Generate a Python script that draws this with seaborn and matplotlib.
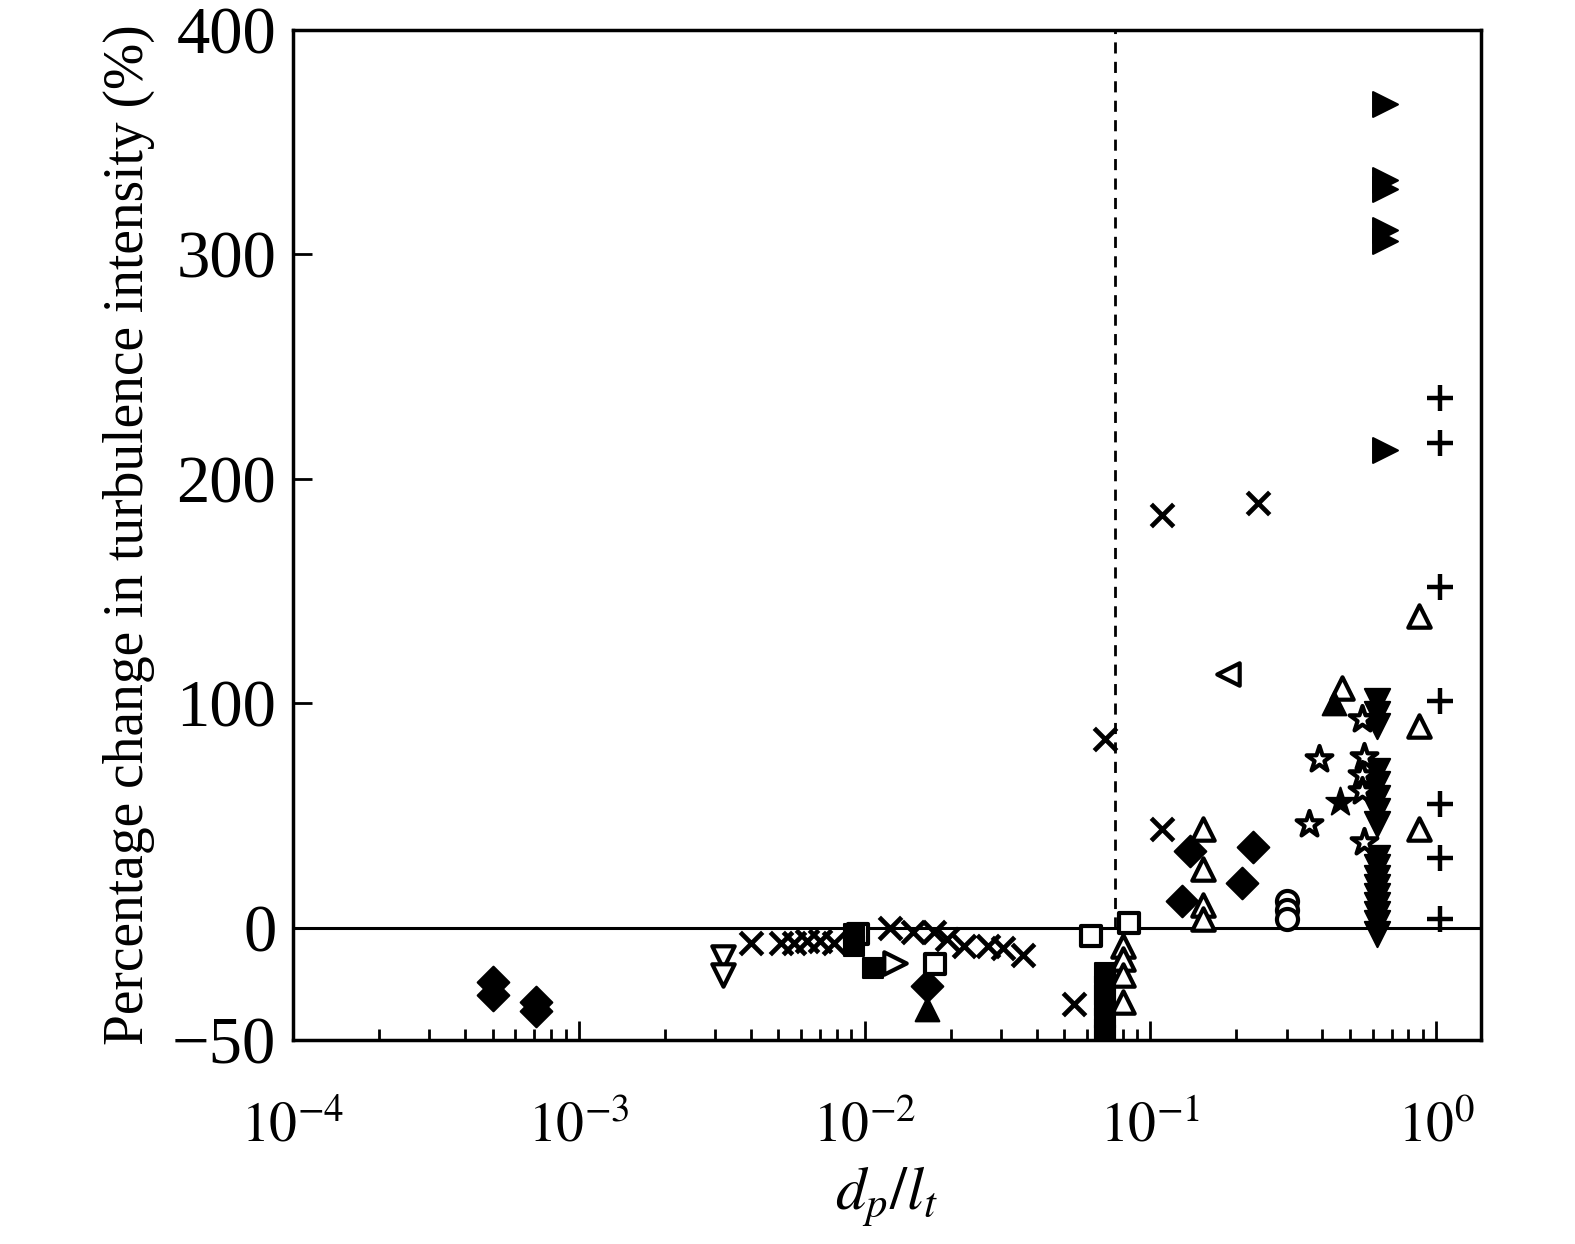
import numpy as np
import pandas as pd
import matplotlib
matplotlib.use("Agg")
import matplotlib.pyplot as plt
import seaborn as sns
from matplotlib.ticker import LogLocator, FixedLocator, FixedFormatter, NullFormatter

# ---------------- data ----------------
cross_x = [0.0696, 0.110, 0.239, 0.110, 0.054, 0.0040, 0.0051, 0.00565, 0.0063, 0.0070,
           0.0078, 0.0123, 0.0148, 0.0175, 0.0195, 0.0222, 0.027, 0.0306, 0.0359]
cross_y = [84, 184, 189, 44, -34, -7, -7, -7, -6, -6, -7, 0, -2, -2, -5, -8, -8, -9, -12]

plus_x = [1.03, 1.03, 1.03, 1.03, 1.03, 1.03, 1.03]
plus_y = [236, 216, 152, 101, 55, 31, 4]

rtri_fill_x = [0.66, 0.66, 0.66, 0.66, 0.66, 0.66]
rtri_fill_y = [367, 333, 329, 311, 306, 213]

rtri_open_x = [0.0128]
rtri_open_y = [-15.5]

ltri_open_x = [0.187]
ltri_open_y = [113]

tri_open_x = [0.47, 0.153, 0.153, 0.153, 0.153, 0.87, 0.87, 0.87, 0.080, 0.080, 0.080, 0.080]
tri_open_y = [107, 44, 26, 10, 4, 139, 90, 44, -8, -14, -21, -33]

tri_fill_x = [0.0166, 0.44]
tri_fill_y = [-36, 100]

vtri_open_x = [0.0032, 0.0032]
vtri_open_y = [-13, -21]

vtri_fill_x = [0.62] * 17
vtri_fill_y = [101, 95, 90, 70, 64, 58, 52, 46, 31, 27, 22, 18, 14, 10, 6, 2, -3]

star_open_x = [0.55, 0.39, 0.56, 0.55, 0.55, 0.36, 0.56]
star_open_y = [93, 75, 76, 68, 61, 46, 38]

star_fill_x = [0.46]
star_fill_y = [56]

diam_fill_x = [5.0e-4, 5.0e-4, 7.1e-4, 7.1e-4, 0.138, 0.229, 0.21, 0.129, 0.0166]
diam_fill_y = [-24, -30, -33, -37, 34, 36, 20, 12, -26]

circ_open_x = [0.30, 0.30, 0.30]
circ_open_y = [12, 8, 4]

sq_open_x = [0.0177, 0.062, 0.084, 0.0095]
sq_open_y = [-16, -3.5, 2, -3]

sq_fill_x = [0.0107, 0.0092, 0.0092, 0.0696, 0.0696, 0.0696, 0.0696, 0.0696, 0.0696, 0.0696]
sq_fill_y = [-18, -3, -8, -20, -26, -30, -35, -40, -45, -48]

dashed_x = 0.075

x_ticks = [1e-4, 1e-3, 1e-2, 1e-1, 1e0]
x_ticklabels = [r"$10^{-4}$", r"$10^{-3}$", r"$10^{-2}$", r"$10^{-1}$", r"$10^{0}$"]
y_ticks = [-50, 0, 100, 200, 300, 400]
y_ticklabels = ["\u221250", "0", "100", "200", "300", "400"]

# ---------------- style ----------------
sns.set_style("ticks")
plt.rcParams["font.family"] = ["Liberation Serif", "DejaVu Serif"]
plt.rcParams["mathtext.fontset"] = "stix"
plt.rcParams["text.color"] = "black"
plt.rcParams["axes.labelcolor"] = "black"
plt.rcParams["xtick.color"] = "black"
plt.rcParams["ytick.color"] = "black"

fig = plt.figure(figsize=(15.75, 12.44), dpi=100)
ax = fig.add_axes([0.186, 0.164, 0.754, 0.812])

S = 260
LW = 3.0

def scat(x, y, marker, filled, s=S, lw=LW):
    df = pd.DataFrame({"x": x, "y": y})
    if marker in ("x", "+"):
        sns.scatterplot(data=df, x="x", y="y", marker=marker, s=s, color="black",
                        linewidth=lw, ax=ax, legend=False, zorder=3)
    elif filled:
        sns.scatterplot(data=df, x="x", y="y", marker=marker, s=s, color="black",
                        edgecolor="black", linewidth=1.5, ax=ax, legend=False, zorder=3)
    else:
        sns.scatterplot(data=df, x="x", y="y", marker=marker, s=s, facecolor="white",
                        edgecolor="black", linewidth=lw, ax=ax, legend=False, zorder=3)

ax.axhline(0, color="black", lw=2.2, zorder=2)
ax.plot([dashed_x, dashed_x], [0, 400], color="black", lw=2, ls=(0, (4, 3)), zorder=2)

scat(cross_x, cross_y, "x", False, lw=3.4)
scat(plus_x, plus_y, "+", False, s=340, lw=3.2)
scat(rtri_fill_x, rtri_fill_y, ">", True, s=320)
scat(rtri_open_x, rtri_open_y, ">", False)
scat(ltri_open_x, ltri_open_y, "<", False)
scat(tri_open_x, tri_open_y, "^", False)
scat(tri_fill_x, tri_fill_y, "^", True, s=290)
scat(vtri_open_x, vtri_open_y, "v", False)
scat(vtri_fill_x, vtri_fill_y, "v", True, s=330)
scat(star_open_x, star_open_y, "*", False, s=380)
scat(star_fill_x, star_fill_y, "*", True, s=460)
scat(diam_fill_x, diam_fill_y, "D", True, s=260)
scat(circ_open_x, circ_open_y, "o", False, s=230)
scat(sq_open_x, sq_open_y, "s", False, s=190)
scat(sq_fill_x, sq_fill_y, "s", True, s=190)

ax.set_xscale("log")
ax.set_xlim(1e-4, 1.43)
ax.set_ylim(-50, 400)

ax.xaxis.set_major_locator(FixedLocator(x_ticks))
ax.xaxis.set_major_formatter(FixedFormatter(x_ticklabels))
ax.xaxis.set_minor_locator(LogLocator(base=10, subs=np.arange(2, 10), numticks=20))
ax.xaxis.set_minor_formatter(NullFormatter())
ax.yaxis.set_major_locator(FixedLocator(y_ticks))
ax.yaxis.set_major_formatter(FixedFormatter(y_ticklabels))

ax.tick_params(axis="both", which="both", direction="in", top=False, right=False)
ax.tick_params(axis="x", which="major", length=14, width=2, labelsize=40, pad=44)
ax.tick_params(axis="x", which="minor", length=8, width=2)
ax.tick_params(axis="y", which="major", length=14, width=2, labelsize=48, pad=12)

for sp in ax.spines.values():
    sp.set_linewidth(2.5)
    sp.set_color("black")

ax.set_xlabel(r"$d_p/l_t$", fontsize=44, labelpad=8)
ax.set_ylabel("Percentage change in turbulence intensity (%)", fontsize=40, labelpad=12)

fig.savefig("out.png", dpi=100, facecolor="white")
